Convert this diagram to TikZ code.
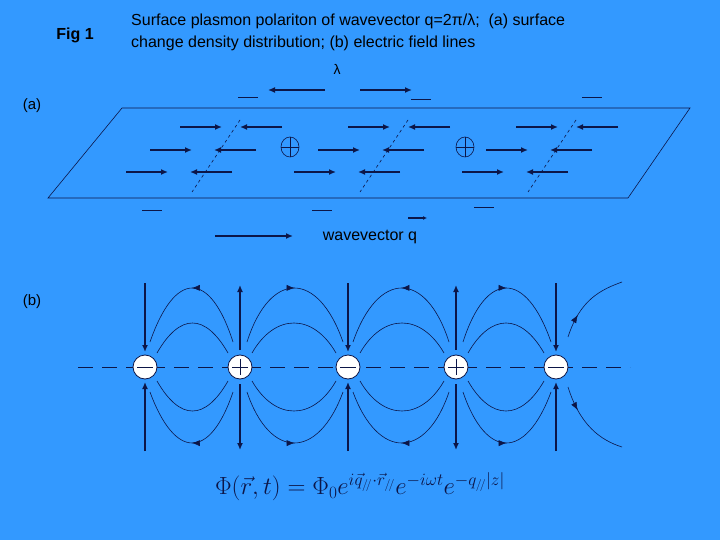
\documentclass[tikz,border=0pt]{standalone}
\usepackage{fontspec}
\setmainfont{Liberation Sans}
\usetikzlibrary{arrows.meta,decorations.markings}
\definecolor{bg}{RGB}{51,153,255}
\definecolor{navy}{RGB}{12,22,72}
\tikzset{
  fat/.style={navy,line width=2.2pt,-{Latex[length=7pt,width=6pt]}},
  thin/.style={navy,line width=0.6pt},
  midl/.style={thin,decoration={markings,mark=at position 0.5 with {\arrow{Latex[length=8pt,width=6pt]}}},postaction={decorate}},
  midr/.style={thin,decoration={markings,mark=at position 0.5 with {\arrowreversed{Latex[length=8pt,width=6pt]}}},postaction={decorate}},
  outarr/.style={thin,decoration={markings,mark=at position 0.3 with {\arrow{Latex[length=8pt,width=6pt]}}},postaction={decorate}},
  chg/.style={circle,fill=white,draw=navy,line width=0.8pt,minimum size=24pt,inner sep=0pt},
  lbl/.style={text=black,inner sep=0pt}
}
\begin{document}
\begin{tikzpicture}[x=1pt,y=-1pt]
\fill[bg] (0,0) rectangle (720,540);
\useasboundingbox (0,0) rectangle (720,540);
\node[lbl,font=\fontsize{16}{18}\selectfont\bfseries] (fig) at (75,35) {Fig 1};
\node[lbl,font=\fontsize{16}{22}\selectfont,align=left,anchor=north west] (title) at (131,14) {Surface plasmon polariton of wavevector q=2π/λ;\ \ (a) surface\\change density distribution; (b) electric field lines};
\node[lbl,font=\fontsize{14}{15}\selectfont] (lam) at (337,69) {λ};
\draw[fat] (325,90) -- (268,90);
\draw[fat] (360,90) -- (412,90);
\foreach \x/\y in {248/97,421/99,592/97,152/210,322/210,484/207}
  \draw[thin,line width=0.9pt] (\x-10,\y) -- (\x+10,\y);
\node[lbl,font=\fontsize{15}{16}\selectfont] (la) at (32,106) {(a)};
\draw[thin] (122,108) -- (690,108) -- (628,198) -- (48,198) -- cycle;
\foreach \x in {0,168,336}
  \draw[thin,dashed] (240+\x,120) -- (192+\x,192);
\foreach \x in {0,168,336}{
  \draw[fat] (180+\x,127) -- (222+\x,127);
  \draw[fat] (282+\x,127) -- (240+\x,127);
  \draw[fat] (150+\x,150) -- (192+\x,150);
  \draw[fat] (256+\x,150) -- (214+\x,150);
  \draw[fat] (126+\x,172) -- (168+\x,172);
  \draw[fat] (232+\x,172) -- (190+\x,172);
}
\foreach \x/\n in {290/p1,465/p2}{
  \draw[thin] (\x,147) ellipse (9 and 10);
  \draw[thin] (\x-9,147) -- (\x+9,147) (\x,137) -- (\x,157);
}
\draw[fat] (215,236) -- (293,236);
\node[lbl,font=\fontsize{16}{18}\selectfont] (wq) at (370,237) {wavevector q};
\draw[navy,line width=1.4pt,-{Latex[length=4pt,width=4pt]}] (408,218) -- (427,218);
\node[lbl,font=\fontsize{15}{16}\selectfont] (lb) at (32,302) {(b)};
\draw[navy,line width=0.9pt,dash pattern=on 15pt off 9pt] (78,367) -- (630,367);
\foreach \a/\b/\s in {145/240/l,240/348/r,348/456/l,456/556/r}{
  \if\s l
    \draw[midr] (\a+5,342) .. controls (\a+30,270) and (\b-30,270) .. (\b-7,342);
    \draw[midr] (\a+5,392) .. controls (\a+30,460) and (\b-30,460) .. (\b-7,392);
  \else
    \draw[midl] (\a+7,342) .. controls (\a+30,270) and (\b-30,270) .. (\b-5,342);
    \draw[midl] (\a+7,392) .. controls (\a+30,460) and (\b-30,460) .. (\b-5,392);
  \fi
  \draw[thin] (\a+12,353) .. controls (\a+35,313) and (\b-35,313) .. (\b-12,353);
  \draw[thin] (\a+12,381) .. controls (\a+35,421) and (\b-35,421) .. (\b-12,381);
}
\draw[outarr] (568,337) .. controls (580,300) and (600,290) .. (622,282);
\draw[outarr] (568,387) .. controls (580,425) and (600,440) .. (622,447);
\foreach \x/\n/\t in {145/c1/m,240/c2/p,348/c3/m,456/c4/p,556/c5/m}{
  \node[chg] (\n) at (\x,367) {};
  \draw[thin,line width=1pt] (\x-8,367) -- (\x+8,367);
  \if\t p
    \draw[thin,line width=1pt] (\x,359) -- (\x,375);
    \draw[fat] (\x,350) -- (\x,285);
    \draw[fat] (\x,384) -- (\x,450);
  \else
    \draw[fat] (\x,283) -- (\x,352);
    \draw[fat] (\x,451) -- (\x,382);
  \fi
}
\node[text=navy,inner sep=0pt,font=\fontsize{26}{30}\selectfont] (eq) at (360,487)
  {$\Phi(\vec r,t)=\Phi_0 e^{i\vec q_{/\!/}\cdot\vec r_{/\!/}}e^{-i\omega t}e^{-q_{/\!/}|z|}$};
\end{tikzpicture}
\end{document}
